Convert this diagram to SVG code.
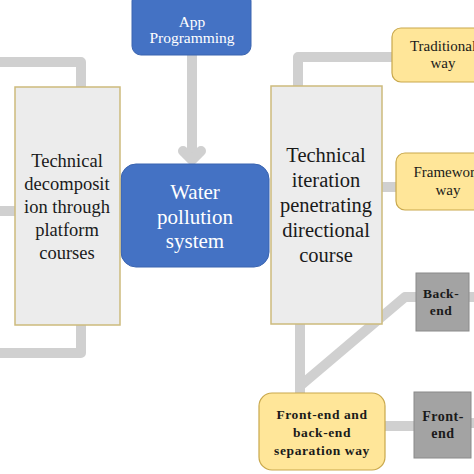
<svg xmlns="http://www.w3.org/2000/svg" width="474" height="474" viewBox="0 0 474 474">
<style>
.conn{fill:none;stroke:#d0d0d0;stroke-width:10;stroke-linejoin:round}
.blue{fill:#4472c4;stroke:#3a64b0;stroke-width:1}
.grey{fill:#ececec;stroke:#cdbb7c;stroke-width:1.5}
.yel{fill:#ffe699;stroke:#c9a84c;stroke-width:1.2}
.dk{fill:#a3a3a3;stroke:#8a8a8a;stroke-width:1}
text{font-family:"Liberation Serif","Times New Roman",serif;text-anchor:middle}
.w{fill:#ffffff}
.k{fill:#1a1a1a}
.b{font-weight:bold;fill:#1a1a1a}
</style>
<rect width="474" height="474" fill="#ffffff"/>
<g id="connectors">
<path class="conn" d="M0,62 H81 V88"/>
<path class="conn" d="M0,211 H16" stroke-width="9"/>
<path class="conn" d="M81,324 V353 H0" />
<path class="conn" d="M192,55 V158" stroke-width="6"/>
<polyline class="conn" points="183,151 192,160 201,151" stroke-width="6" stroke-linecap="round"/>
<path class="conn" d="M298,87 V57 H393"/>
<path class="conn" d="M381,187 H397"/>
<path class="conn" d="M300,324 V394"/>
<path class="conn" d="M300,386 L405,297 H417"/>
<path class="conn" d="M384,426 H415"/>
<path class="conn" d="M468,297 H474" stroke-width="9"/>
<path class="conn" d="M470,423 H474" stroke-width="9"/>
</g>
<g id="app">
<rect class="blue" x="132" y="-8" width="119" height="63" rx="9"/>
<text class="w" x="192" y="27" font-size="15.5">App</text>
<text class="w" x="192" y="43" font-size="15.5">Programming</text>
</g>
<g id="water">
<rect class="blue" x="121" y="164" width="148" height="103" rx="15"/>
<text class="w" x="195" y="199" font-size="21">Water</text>
<text class="w" x="195" y="224" font-size="21">pollution</text>
<text class="w" x="195" y="248" font-size="21">system</text>
</g>
<g id="decomp">
<rect class="grey" x="15" y="87" width="105" height="238"/>
<text class="k" x="67" y="167" font-size="18.5">Technical</text>
<text class="k" x="67" y="190" font-size="18.5">decomposit</text>
<text class="k" x="67" y="213" font-size="18.5">ion through</text>
<text class="k" x="67" y="236" font-size="18.5">platform</text>
<text class="k" x="67" y="259" font-size="18.5">courses</text>
</g>
<g id="iteration">
<rect class="grey" x="271" y="86" width="111" height="238"/>
<text class="k" x="326" y="162" font-size="20.5">Technical</text>
<text class="k" x="326" y="187" font-size="20.5">iteration</text>
<text class="k" x="326" y="212" font-size="20.5">penetrating</text>
<text class="k" x="326" y="237" font-size="20.5">directional</text>
<text class="k" x="326" y="262" font-size="20.5">course</text>
</g>
<g id="traditional">
<rect class="yel" x="392" y="28" width="100" height="54" rx="9"/>
<text class="k" x="443" y="51" font-size="15">Traditional</text>
<text class="k" x="443" y="68" font-size="15">way</text>
</g>
<g id="framework">
<rect class="yel" x="396" y="153" width="100" height="57" rx="9"/>
<text class="k" x="448" y="177" font-size="15">Framework</text>
<text class="k" x="448" y="195" font-size="15">way</text>
</g>
<g id="backend">
<rect class="dk" x="416" y="273" width="53" height="58"/>
<text class="b" x="441" y="298" font-size="13.5" letter-spacing="0.5">Back-</text>
<text class="b" x="441" y="315" font-size="13.5" letter-spacing="0.5">end</text>
</g>
<g id="separation">
<rect class="yel" x="259" y="393" width="126" height="77" rx="13"/>
<text class="b" x="322" y="419" font-size="13.5" letter-spacing="0.6">Front-end and</text>
<text class="b" x="322" y="437" font-size="13.5" letter-spacing="0.6">back-end</text>
<text class="b" x="322" y="455" font-size="13.5" letter-spacing="0.6">separation way</text>
</g>
<g id="frontend">
<rect class="dk" x="414" y="392" width="57" height="66"/>
<text class="b" x="443" y="421" font-size="14" letter-spacing="0.5">Front-</text>
<text class="b" x="443" y="438" font-size="14" letter-spacing="0.5">end</text>
</g>
</svg>
